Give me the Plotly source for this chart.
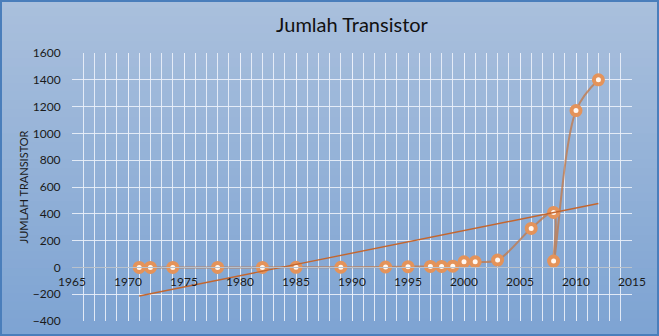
import numpy as np
import plotly.graph_objects as go

years = [1971, 1972, 1974, 1978, 1982, 1985, 1989, 1993, 1995, 1997,
         1998, 1999, 2000, 2001, 2003, 2006, 2008, 2008, 2010, 2012]
transistors = [0.0023, 0.0035, 0.0045, 0.029, 0.134, 0.275, 1.2, 3.1, 5.5, 7.5,
               7.5, 9.5, 42, 42, 55, 291, 410, 47, 1170, 1400]
x_ticks = [1965, 1970, 1975, 1980, 1985, 1990, 1995, 2000, 2005, 2010, 2015]
y_ticks = [-400, -200, 0, 200, 400, 600, 800, 1000, 1200, 1400, 1600]
title_text = "Jumlah Transistor"
y_title = "JUMLAH TRANSISTOR"

W, H = 659, 336
ML, MR, MT, MB = 72, 27, 53, 15
pw, ph = W - ML - MR, H - MT - MB

# linear trendline (as Excel's)
slope, intercept = np.polyfit(years, transistors, 1)
trend_x = [min(years), max(years)]
trend_y = [slope * v + intercept for v in trend_x]

fig = go.Figure()
fig.add_trace(go.Scatter(
    x=years, y=transistors, mode="lines+markers",
    line=dict(color="rgba(196,120,70,0.75)", width=2, shape="spline", smoothing=1),
    marker=dict(size=9, color="#fff8f2", line=dict(color="#e4935a", width=4)),
    showlegend=False, hoverinfo="x+y"))
fig.add_trace(go.Scatter(
    x=trend_x, y=trend_y, mode="lines",
    line=dict(color="#c4662e", width=1.4), showlegend=False))

# gradient background bands (paper coords)
shapes = []
x0p, x1p = -ML / pw, (W - ML) / pw
ytop, ybot = (H - MB) / ph, -MB / ph
n = 40
c_top = np.array([170, 192, 221])
c_bot = np.array([126, 164, 211])
for i in range(n):
    t = i / (n - 1)
    c = (c_top * (1 - t) + c_bot * t).astype(int)
    ya = ytop - (ytop - ybot) * i / n
    yb = ytop - (ytop - ybot) * (i + 1) / n
    shapes.append(dict(type="rect", xref="paper", yref="paper",
                       x0=x0p, x1=x1p, y0=yb - 0.002, y1=ya + 0.002,
                       fillcolor=f"rgb({c[0]},{c[1]},{c[2]})",
                       line=dict(width=0), layer="below"))
shapes.append(dict(type="rect", xref="paper", yref="paper",
                   x0=x0p + 1 / pw, x1=x1p - 1 / pw, y0=ybot + 1 / ph, y1=ytop - 1 / ph,
                   line=dict(color="#4a7ebb", width=2), layer="above"))

grid_c = "rgba(235,241,249,0.9)"
fig.update_layout(
    width=W, height=H,
    margin=dict(l=ML, r=MR, t=MT, b=MB, autoexpand=False),
    paper_bgcolor="#9db7da", plot_bgcolor="rgba(0,0,0,0)",
    shapes=shapes,
    font=dict(family="Lato, Open Sans, sans-serif", size=12, color="#1a1a1a"),
    title=dict(text=title_text, x=0.5, xref="paper", xanchor="center",
               y=1 - 25 / H, yanchor="middle",
               font=dict(family="Lato, Open Sans, sans-serif", size=20, color="#111111")),
    xaxis=dict(range=[1965, 2015], tickvals=x_ticks, ticktext=[str(v) for v in x_ticks],
               anchor="free", position=(0 - y_ticks[0]) / (y_ticks[-1] - y_ticks[0]),
               showgrid=True, gridcolor=grid_c, gridwidth=1,
               minor=dict(dtick=1, showgrid=True, gridcolor=grid_c, gridwidth=1),
               showline=True, linecolor="#b9c2cc", linewidth=1,
               ticks="outside", ticklen=3, tickcolor="rgba(0,0,0,0)",
               zeroline=False, tickfont=dict(size=12), automargin=False),
    yaxis=dict(range=[y_ticks[0], y_ticks[-1]], tickvals=y_ticks,
               showgrid=True, gridcolor=grid_c, gridwidth=1, zeroline=False,
               ticks="outside", ticklen=8, tickcolor="rgba(0,0,0,0)",
               title=dict(text=y_title, font=dict(size=11), standoff=1),
               tickfont=dict(size=12), automargin=False),
)
fig.write_html("out.html")
